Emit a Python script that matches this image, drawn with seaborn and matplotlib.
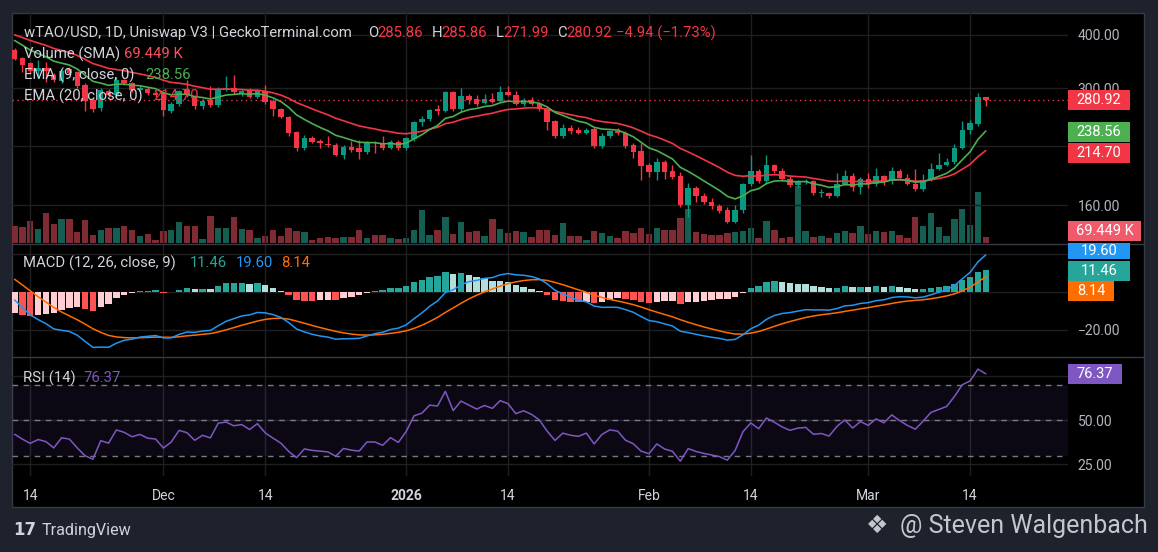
import numpy as np
import pandas as pd
import seaborn as sns
import matplotlib.pyplot as plt
from matplotlib.patches import Rectangle
from matplotlib.ticker import NullLocator

W, H = 1158, 552

# daily candles (USD)
dates = pd.date_range("2025-11-12", periods=125, freq="D")
opens = [369, 353, 343, 329, 334, 322, 312, 332, 327, 305, 282, 270, 296, 290, 313, 308, 298, 299, 293, 292,
         266, 276, 297, 288, 272, 281, 274, 299, 300, 291, 297, 287, 296, 280, 268, 257, 237, 217, 229, 226,
         222, 221, 209, 219, 217, 213, 224, 222, 218, 225, 217, 228, 250, 254, 268, 266, 294, 268, 288, 283,
         277, 283, 280, 294, 290, 276, 281, 276, 268, 251, 232, 242, 240, 236, 241, 220, 232, 239, 236, 221,
         214, 198, 191, 202, 192, 187, 160, 175, 168, 163, 159, 156, 146, 156, 179, 192, 182, 199, 192, 184,
         178, 181, 182, 171, 171, 168, 179, 187, 176, 184, 179, 187, 182, 192, 185, 179, 174, 183, 194, 198,
         202, 218, 240, 248, 285.86]
highs = [372, 356, 346, 350, 346, 326, 332, 336, 330, 308, 285, 300, 299, 318, 316, 311, 305, 302, 296, 294,
         279, 298, 313, 290, 283, 304, 302, 320, 322, 299, 300, 299, 305, 283, 270, 259, 239, 233, 232, 228,
         232, 223, 221, 226, 227, 226, 226, 232, 227, 227, 231, 252, 258, 269, 274, 296, 296, 300, 291, 289,
         291, 292, 303, 304, 296, 284, 286, 278, 270, 253, 247, 246, 244, 242, 243, 236, 240, 242, 238, 223,
         224, 201, 206, 204, 198, 191, 180, 177, 171, 166, 161, 158, 160, 180, 210, 194, 209, 200, 195, 187,
         183, 184, 183, 174, 172, 190, 193, 190, 186, 190, 195, 188, 196, 194, 189, 194, 189, 201, 212, 206,
         222, 252, 253, 292, 285.86]
lows = [349, 328, 326, 317, 311, 310, 308, 322, 300, 265, 264, 266, 286, 287, 305, 294, 294, 289, 287, 258,
        262, 273, 287, 269, 269, 271, 271, 296, 291, 288, 284, 284, 276, 259, 255, 232, 214, 215, 223, 218,
        219, 208, 205, 213, 205, 211, 212, 215, 216, 215, 215, 226, 245, 252, 260, 264, 266, 266, 275, 272,
        275, 277, 278, 288, 274, 272, 274, 266, 240, 230, 230, 235, 234, 234, 218, 218, 230, 233, 218, 206,
        183, 186, 183, 184, 184, 158, 150, 163, 161, 157, 153, 145, 145, 153, 177, 180, 180, 190, 182, 176,
        176, 179, 169, 167, 166, 167, 178, 173, 170, 175, 177, 178, 179, 185, 178, 173, 173, 182, 193, 197,
        200, 216, 234, 245, 271.99]
closes = [352, 340, 329, 335, 330, 314, 329, 326, 304, 280, 268, 297, 290, 314, 308, 297, 301, 292, 290, 267,
          276, 295, 290, 272, 280, 274, 299, 301, 294, 296, 287, 296, 279, 268, 257, 236, 217, 229, 225, 223,
          221, 210, 219, 215, 213, 223, 223, 217, 225, 217, 229, 250, 254, 267, 266, 294, 268, 288, 282, 276,
          283, 279, 294, 290, 276, 281, 276, 268, 250, 232, 242, 238, 236, 240, 220, 232, 238, 236, 220, 213,
          197, 191, 202, 191, 186, 160, 175, 168, 163, 159, 155, 146, 156, 179, 192, 182, 199, 192, 184, 178,
          181, 182, 171, 172, 168, 179, 187, 176, 184, 179, 187, 182, 192, 185, 179, 174, 183, 194, 198, 202,
          217, 240, 249, 286, 280.92]
volume_k = [187, 180, 245, 154, 330, 212, 267, 267, 124, 256, 91, 146, 168, 168, 190, 146, 80, 102, 36, 135,
            146, 234, 190, 190, 47, 300, 168, 168, 289, 154, 146, 58, 80, 146, 80, 168, 135, 124, 36, 58,
            69, 58, 69, 69, 146, 58, 91, 91, 58, 47, 58, 146, 366, 91, 146, 289, 102, 234, 124, 135,
            80, 267, 157, 113, 135, 124, 69, 146, 146, 91, 223, 80, 80, 36, 135, 113, 80, 58, 135, 113,
            168, 102, 168, 146, 146, 278, 377, 124, 102, 91, 91, 113, 124, 135, 168, 58, 245, 146, 58, 69,
            630, 135, 69, 80, 58, 113, 135, 113, 190, 102, 135, 124, 135, 91, 58, 289, 190, 333, 179, 80,
            267, 377, 201, 564, 69.449]

# indicator values already running at the left edge of the chart
ema9_start, ema20_start = 388, 400
ema12_start, ema26_start, signal_start = 393.8, 398.0, 6.7
rsi_gain_start, rsi_loss_start = 5.5, 7.6

tick_dates = ["2025-11-14", "2025-12-01", "2025-12-14", "2026-01-01", "2026-01-14",
              "2026-02-01", "2026-02-14", "2026-03-01", "2026-03-14"]
tick_labels = ["14", "Dec", "14", "2026", "14", "Feb", "14", "Mar", "14"]

UP, DOWN = "#089981", "#f23645"
GRID = "#1f1f1f"
TXT = "#d1d4dc"
AXT = "#b2b5be"


def ema(values, span, start):
    a = 2 / (span + 1)
    out = [start]
    for v in values[1:]:
        out.append(a * v + (1 - a) * out[-1])
    return np.array(out)


def rsi(values, g0, l0):
    g, l = g0, l0
    out = [100 - 100 / (1 + g / l)]
    for prev, cur in zip(values[:-1], values[1:]):
        ch = cur - prev
        g = (g * 13 + max(ch, 0)) / 14
        l = (l * 13 + max(-ch, 0)) / 14
        out.append(100 - 100 / (1 + g / l))
    return np.array(out)


o, h, l, c = map(np.array, (opens, highs, lows, closes))
ema9 = ema(c, 9, ema9_start)
ema20 = ema(c, 20, ema20_start)
macd = ema(c, 12, ema12_start) - ema(c, 26, ema26_start)
signal = ema(macd, 9, signal_start)
hist = macd - signal
rsi14 = rsi(c, rsi_gain_start, rsi_loss_start)

sns.set_theme(style="dark")
plt.rcParams['font.family'] = ['Roboto', 'DejaVu Sans']


def px(x0, y0, x1, y1):
    return [x0 / W, 1 - y1 / H, (x1 - x0) / W, (y1 - y0) / H]


fig = plt.figure(figsize=(W / 100, H / 100), dpi=100, facecolor="#1e222d")
fig.patches.append(Rectangle((12 / W, 1 - 507 / H), 1132 / W, 494 / H, transform=fig.transFigure,
                             fc="black", ec="#363a45", lw=1, zorder=-1))

ax_p = fig.add_axes(px(12, 13, 1068, 243))
ax_v = ax_p.twinx()
ax_m = fig.add_axes(px(12, 244, 1068, 356), sharex=ax_p)
ax_r = fig.add_axes(px(12, 357, 1068, 476), sharex=ax_p)
ax_v.set_zorder(1)
ax_p.set_zorder(2)
for ax in (ax_p, ax_v, ax_m, ax_r):
    ax.set_facecolor("none")
    for s in ax.spines.values():
        s.set_visible(False)
    ax.tick_params(length=0, colors=AXT, labelsize=10)

# volume
vol_colors = np.where(c >= o, "#175e52", "#802b34")
ax_v.bar(dates, volume_k, width=0.82, color=vol_colors, lw=0)
ax_v.set_ylim(0, 230 * 11)
ax_v.set_yticks([])
ax_v.grid(False)

# candles
colors = np.where(c >= o, UP, DOWN)
ax_p.vlines(dates, l, h, colors=colors, lw=1)
ax_p.bar(dates, np.maximum(np.abs(c - o), 0.6), bottom=np.minimum(o, c), width=0.7, color=colors, lw=0)
sns.lineplot(x=dates, y=ema20, ax=ax_p, color="#f23645", linewidth=1.2)
sns.lineplot(x=dates, y=ema9, ax=ax_p, color="#4caf50", linewidth=1.2)
ax_p.axhline(closes[-1], color=DOWN, lw=1, ls=(0, (1, 2.5)))
ax_p.set_yscale("log")
ax_p.set_ylim(130.4, 450)
ax_p.yaxis.tick_right()
ax_p.set_yticks([160, 220, 300, 400])
ax_p.set_yticklabels(["160.00", "", "300.00", "400.00"])
ax_p.yaxis.set_minor_locator(NullLocator())

# MACD
up_hist = hist >= 0
rising = np.r_[True, hist[1:] > hist[:-1]]
hcol = np.where(up_hist, np.where(rising, "#26a69a", "#b2dfdb"), np.where(rising, "#ffcdd2", "#ff5252"))
ax_m.bar(dates, hist, width=0.82, color=hcol, lw=0)
sns.lineplot(x=dates, y=signal, ax=ax_m, color="#ff6d00", linewidth=1.1)
sns.lineplot(x=dates, y=macd, ax=ax_m, color="#2196f3", linewidth=1.1)
ax_m.set_ylim(-33.7, 25.26)
ax_m.yaxis.tick_right()
ax_m.set_yticks([-20, 0, 20])
ax_m.set_yticklabels(["\u221220.00", "", ""])

# RSI
ax_r.axhspan(30, 70, color="#7e57c2", alpha=0.1, lw=0)
for lev in (70, 50, 30):
    ax_r.axhline(lev, color="#787b86", lw=1, ls=(0, (4, 4)))
sns.lineplot(x=dates, y=rsi14, ax=ax_r, color="#7e57c2", linewidth=1.1)
ax_r.set_ylim(18.45, 85.5)
ax_r.yaxis.tick_right()
ax_r.set_yticks([25, 50, 75])
ax_r.set_yticklabels(["25.00", "50.00", ""])

for ax in (ax_p, ax_m, ax_r):
    ax.grid(True, color=GRID, lw=1)
    ax.set_xlabel("")
    ax.set_ylabel("")
    ax.tick_params(axis="y", pad=7)
ax_r.set_xticks(pd.to_datetime(tick_dates))
ax_r.set_xticklabels(tick_labels)
ax_r.tick_params(axis="x", pad=9, colors=TXT)
ax_r.get_xticklabels()[3].set_fontweight("bold")
ax_p.tick_params(axis="x", labelbottom=False)
ax_m.tick_params(axis="x", labelbottom=False)
ax_p.set_xlim(dates[0] - pd.Timedelta(days=0.33), dates[0] + pd.Timedelta(days=134.5))

for yy in (243.5, 356.5):
    fig.add_artist(plt.Line2D([12 / W, 1144 / W], [1 - yy / H] * 2, color="#363a45", lw=1))


def tag(ax, value, text, color, dy=0, width=62, height=20):
    yd = ax.transData.transform((0, value))[1] - dy
    fig.patches.append(Rectangle((1068 / W, (yd - height / 2) / H), width / W, height / H,
                                 transform=fig.transFigure, fc=color, ec="none", zorder=5))
    fig.text((1068 + width / 2) / W, yd / H, text, color="white", fontsize=10.5,
             ha="center", va="center", zorder=6)


tag(ax_p, 280.92, "280.92", "#f23645")
tag(ax_p, 238.56, "238.56", "#4caf50", dy=0.8)
tag(ax_p, 214.70, "214.70", "#f23645", dy=2.2)
tag(ax_v, 69.449, "69.449 K", "#f05a6a", dy=-5.7, width=73)
tag(ax_m, 19.60, "19.60", "#2196f3", dy=-3.8, height=16)
tag(ax_m, 11.46, "11.46", "#26a69a", dy=0.8)
tag(ax_m, 8.14, "8.14", "#ff6d00", dy=14.5, width=46)
tag(ax_r, 76.37, "76.37", "#7e57c2", dy=0.7, width=54)


def label(x, y, text, color, size=10.7, **kw):
    fig.text(x / W, 1 - y / H, text, color=color, fontsize=size, ha="left", va="center", **kw)


label(23.6, 33, "wTAO/USD, 1D, Uniswap V3 | GeckoTerminal.com", TXT)
for x, t, col in [(368, "O", TXT), (377, "285.86", DOWN), (432, "H", TXT), (441, "285.86", DOWN),
                  (495.5, "L", TXT), (503, "271.99", DOWN), (557, "C", TXT), (566, "280.92", DOWN),
                  (616, "\u22124.94 (\u22121.73%)", DOWN)]:
    label(x, 33, t, col)
label(23.6, 54, "Volume (SMA)", TXT)
label(124, 54, "69.449 K", "#f7525f")
label(23.6, 75, "EMA (9, close, 0)", TXT)
label(145, 75, "238.56", "#4caf50")
label(23.6, 96, "EMA (20, close, 0)", TXT)
label(153, 96, "214.70", "#f23645")
label(23, 263, "MACD (12, 26, close, 9)", TXT)
label(190, 263, "11.46", "#26a69a")
label(236, 263, "19.60", "#2196f3")
label(281, 263, "8.14", "#ff6d00")
label(23, 378, "RSI (14)", TXT)
label(83, 378, "76.37", "#7e57c2")

label(13, 530, "17", TXT, size=12, fontweight="heavy", family=["DejaVu Sans"])
label(42, 530, "TradingView", TXT, size=11.6)
label(866, 526, "\u2756", "#c4c6cc", size=18, family=["DejaVu Sans"])
label(900, 526, "@ Steven Walgenbach", "#c4c6cc", size=18)

fig.savefig("out.png", dpi=100, facecolor=fig.get_facecolor())
